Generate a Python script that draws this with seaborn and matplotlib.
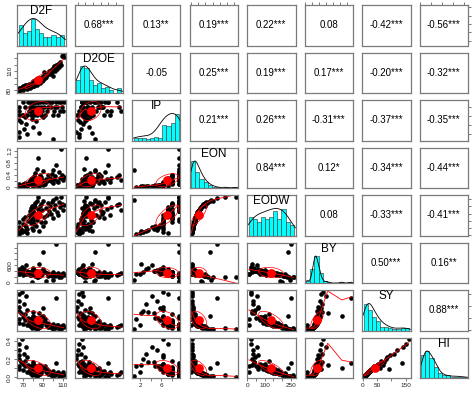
import numpy as np
import pandas as pd
import matplotlib
matplotlib.use("Agg")
import matplotlib.pyplot as plt
import seaborn as sns

# ---------------- data ----------------
names = ["D2F", "D2OE", "IP", "EON", "EODW", "BY", "SY", "HI"]

D2F = [66, 66, 66, 66, 66, 66, 68, 69, 70, 70, 71, 72, 72, 73, 74, 74, 75, 76,
       77, 77, 78, 78, 78, 79, 79, 79, 80, 80, 80, 80, 81, 81, 81, 82, 82, 82, 83, 83,
       84, 84, 85, 85, 86, 86, 87, 88, 88, 89, 90, 90, 91, 92, 93, 94, 95, 96,
       97, 98, 99, 100, 100, 101, 102, 103, 104, 105, 106, 107, 108, 109, 110, 111]
D2OE = [78, 80, 82, 79, 81, 84, 83, 85, 80, 86, 84, 88, 85, 87, 82, 89, 86, 90,
        84, 88, 86, 90, 85, 92, 87, 89, 88, 91, 86, 95, 90, 87, 93, 89, 92, 96, 90, 94,
        88, 97, 93, 91, 99, 95, 92, 100, 98, 94, 103, 96, 108, 99, 101, 104, 106, 110,
        105, 112, 108, 115, 102, 118, 110, 120, 113, 122, 116, 124, 119, 134, 137, 132]
IP = [2.5, 5.1, 1.2, 6.3, 7.2, 8.1, 4.6, 6.3, 6.3, 9.3, 3.1, 5.7, 8.1, 4.2, 1.9, 6.3, 9.3, 7.2,
      8.1, 9.3, 6.3, 7.2, 9.3, 5.4, 8.1, 9.3, 6.3, 9.3, 8.1, 3.5, 9.3, 7.2, 6.3, 9.3, 8.1, 9.3, 4.9, 7.2,
      9.3, 6.3, 8.1, 9.3, 2.2, 7.2, 9.3, 6.3, 8.1, 7.2, 9.3, 5.8, 8.1, 6.3, 9.3, 7.2, 8.1, 9.3,
      9.3, 8.1, 9.3, 6.3, 0.8, 7.2, 8.1, 9.3, 8.1, 6.3, 9.3, 7.2, 9.3, 8.1, 7.2, 9.3]
EON = [0.02, 0.03, 0.01, 0.05, 0.02, 0.08, 0.04, 0.03, 0.06, 0.10, 0.02, 0.07, 0.12, 0.04, 0.01, 0.05, 0.09, 0.15,
       0.12, 0.20, 0.08, 0.15, 0.25, 0.05, 0.18, 0.30, 0.10, 0.22, 0.14, 0.04, 0.35, 0.17, 0.09, 0.28, 0.13, 0.45, 0.06, 0.19,
       0.60, 0.11, 0.24, 0.95, 0.03, 0.16, 0.40, 0.08, 0.32, 0.21, 0.52, 0.07, 0.14, 0.10, 0.27, 0.18, 0.38, 0.22,
       0.30, 0.18, 0.42, 0.12, 0.55, 0.25, 0.35, 0.72, 0.20, 0.15, 0.48, 0.28, 1.25, 0.38, 0.22, 0.33]
EODW = [25, 35, 8, 60, 18, 90, 40, 22, 75, 110, 30, 70, 125, 55, 12, 45, 95, 140,
        115, 165, 85, 130, 185, 50, 150, 200, 100, 170, 120, 38, 210, 155, 80, 195, 135, 225, 65, 145,
        240, 105, 180, 262, 28, 160, 205, 88, 215, 175, 235, 62, 128, 92, 190, 142, 220, 168,
        205, 150, 228, 118, 245, 182, 212, 255, 158, 138, 232, 198, 268, 218, 172, 208]
BY = [350, 420, 300, 380, 450, 280, 400, 520, 330, 260, 480, 310, 360, 600, 290, 410, 340, 380,
      320, 250, 380, 300, 270, 410, 350, 40, 440, 290, 360, 500, 260, 310, 420, 280, 340, 220, 390, 300,
      180, 370, 270, 200, 650, 330, 240, 400, 260, 310, 1050, 450, 350, 380, 60, 330, 240, 300,
      250, 300, 220, 350, 90, 280, 240, 1320, 310, 330, 210, 260, 180, 290, 320, 270]
SY = [80, 120, 45, 95, 150, 30, 70, 160, 55, 25, 110, 40, 65, 140, 20, 85, 50, 35,
      30, 15, 45, 25, 18, 50, 35, 10, 60, 22, 40, 75, 12, 28, 55, 20, 38, 8, 48, 26,
      5, 42, 16, 9, 70, 33, 14, 52, 17, 27, 60, 90, 36, 44, 19, 31, 11, 24,
      12, 18, 8, 25, 6, 15, 10, 135, 20, 22, 5, 14, 4, 16, 21, 13]
HI = [0.20, 0.30, 0.13, 0.24, 0.36, 0.09, 0.17, 0.42, 0.15, 0.08, 0.26, 0.12, 0.18, 0.33, 0.06, 0.22, 0.14, 0.11,
      0.08, 0.05, 0.12, 0.07, 0.06, 0.13, 0.10, 0.03, 0.15, 0.07, 0.11, 0.17, 0.04, 0.08, 0.14, 0.06, 0.10, 0.03, 0.12, 0.07,
      0.02, 0.11, 0.05, 0.03, 0.14, 0.09, 0.04, 0.13, 0.05, 0.08, 0.10, 0.09, 0.10, 0.12, 0.06, 0.09, 0.04, 0.07,
      0.04, 0.05, 0.02, 0.07, 0.02, 0.04, 0.03, 0.16, 0.05, 0.06, 0.01, 0.04, 0.01, 0.04, 0.06, 0.03]

corr_text = [
    ["0.68***", "0.13**", "0.19***", "0.22***", "0.08", "-0.42***", "-0.56***"],
    ["-0.05", "0.25***", "0.19***", "0.17***", "-0.20***", "-0.32***"],
    ["0.21***", "0.26***", "-0.31***", "-0.37***", "-0.35***"],
    ["0.84***", "0.12*", "-0.34***", "-0.44***"],
    ["0.08", "-0.33***", "-0.41***"],
    ["0.50***", "0.16**"],
    ["0.88***"],
]

# axis ticks and the labels that are printed
ticks = {
    "D2F": [70, 80, 90, 100, 110],
    "D2OE": [80, 90, 100, 110, 120, 130],
    "IP": [2, 4, 6, 8],
    "EON": [0, 0.2, 0.4, 0.6, 0.8, 1.0, 1.2],
    "EODW": [0, 50, 100, 150, 200, 250],
    "BY": [0, 200, 400, 600, 800, 1000, 1200],
    "SY": [0, 50, 100, 150],
    "HI": [0.0, 0.1, 0.2, 0.3, 0.4],
}
tick_labels = {
    "D2F": ["70", "", "90", "", "110"],
    "D2OE": ["80", "", "", "110", "", ""],
    "IP": ["2", "", "6", ""],
    "EON": ["0", "", "0.4", "", "0.8", "", "1.2"],
    "EODW": ["0", "", "100", "", "", "250"],
    "BY": ["0", "", "", "600", "", "", ""],
    "SY": ["0", "50", "", "150"],
    "HI": ["0.0", "", "0.2", "", "0.4"],
}

df = pd.DataFrame({"D2F": D2F, "D2OE": D2OE, "IP": IP, "EON": EON,
                   "EODW": EODW, "BY": BY, "SY": SY, "HI": HI})

# ---------------- helpers ----------------
def lowess(x, y, frac=2/3, iters=3):
    """R-style lowess, evaluated at the sorted unique x values."""
    x = np.asarray(x, float); y = np.asarray(y, float)
    n = len(x)
    k = int(np.ceil(frac * n))
    rob = np.ones(n)

    def fit_at(g):
        d = np.abs(x - g)
        h = max(np.sort(d)[k - 1], 1e-12) * 1.0001
        w = np.clip(1 - (d / h) ** 3, 0, None) ** 3 * rob
        W = w.sum()
        if W <= 0:
            return y.mean()
        xm = (w * x).sum() / W; ym = (w * y).sum() / W
        vx = (w * (x - xm) ** 2).sum()
        b = (w * (x - xm) * (y - ym)).sum() / vx if vx > 1e-12 else 0
        return ym + b * (g - xm)

    for _ in range(iters):
        fitted = np.array([fit_at(g) for g in x])
        res = y - fitted
        s = np.median(np.abs(res))
        if s <= 0:
            break
        u = res / (6 * s)
        rob = np.clip(1 - u ** 2, 0, None) ** 2
    grid = np.unique(x)
    return grid, np.array([fit_at(g) for g in grid])

def kde_curve(v, lo, hi):
    v = np.asarray(v, float)
    n = len(v)
    iqr = np.subtract(*np.percentile(v, [75, 25]))
    bw = 1.06 * min(np.std(v, ddof=1), iqr / 1.34) * n ** (-0.2) * 1.2
    xs = np.linspace(lo, hi, 200)
    dens = np.exp(-0.5 * ((xs[:, None] - v[None, :]) / bw) ** 2).sum(axis=1)
    return xs, dens / dens.max()

def lims(v):
    v = np.asarray(v, float)
    r = v.max() - v.min()
    return v.min() - 0.04 * r, v.max() + 0.04 * r

sns.set_theme(style="white")
plt.rcParams["font.family"] = ["Liberation Sans", "DejaVu Sans"]

W, H = 474, 394
fig = plt.figure(figsize=(W / 100, H / 100), dpi=100)
fig.patch.set_facecolor("white")

col_left = [17 + 57.5 * i for i in range(8)]
row_top = [5 + 47.5 * i for i in range(8)]
pw, ph = 48.5, 40.5
frame_col = "#7a7a7a"

for i, yn in enumerate(names):          # row
    for j, xn in enumerate(names):      # column
        ax = fig.add_axes([col_left[j] / W, 1 - (row_top[i] + ph) / H, pw / W, ph / H])
        ax.set_facecolor("white")
        for s in ax.spines.values():
            s.set_color(frame_col)
            s.set_linewidth(0.9)
        xl = lims(df[xn])
        yl = lims(df[yn])

        if i == j:
            v = df[xn].values
            edges = np.linspace(v.min(), v.max(), 12)
            sns.histplot(x=v, bins=edges, ax=ax, color="#00FFFF", edgecolor="#2b2b2b",
                         linewidth=0.4, alpha=1, stat="count")
            cmax = max(p.get_height() for p in ax.patches)
            xs, dn = kde_curve(v, xl[0], xl[1])
            ax.plot(xs, dn * cmax, color="black", lw=0.6)
            ax.set_xlim(*xl)
            ax.set_ylim(0, 1.5 * cmax)
            ax.text(0.5, 0.84, xn, transform=ax.transAxes, ha="center", va="center",
                    fontsize=8.5, color="black")
        elif i > j:
            x = df[xn].values; y = df[yn].values
            sns.scatterplot(x=x, y=y, ax=ax, s=11, color="black", linewidth=0, legend=False)
            gx, gy = lowess(x, y)
            ax.plot(gx, gy, color="red", lw=0.6)
            mx, my = x.mean(), y.mean()
            cov = np.cov(x, y)
            vals, vecs = np.linalg.eigh(cov)
            t = np.linspace(0, 2 * np.pi, 100)
            circ = np.vstack([np.cos(t), np.sin(t)])
            ell = vecs @ (np.sqrt(vals)[:, None] * circ)
            ax.plot(mx + ell[0], my + ell[1], color="red", lw=0.5)
            ax.scatter([mx], [my], s=40, color="red", zorder=5, linewidths=0)
            ax.set_xlim(*xl); ax.set_ylim(*yl)
        else:
            ax.set_xlim(*xl); ax.set_ylim(*yl)
            ax.text(0.5, 0.5, corr_text[i][j - i - 1], transform=ax.transAxes,
                    ha="center", va="center", fontsize=7, color="black")

        ax.set_xlabel(""); ax.set_ylabel("")
        ax.tick_params(left=False, bottom=False, labelleft=False, labelbottom=False)

        # outer axes, alternating as in R pairs()
        tp = dict(length=2.5, width=0.5, color="#444444", labelsize=4.6, pad=1,
                  labelcolor="#222222")
        if i == 7 and j % 2 == 0:
            ax.set_xticks(ticks[xn]); ax.set_xticklabels(tick_labels[xn])
            ax.tick_params(axis="x", bottom=True, labelbottom=True, **tp)
            ax.set_xlim(*xl)
        if i == 0 and j % 2 == 1:
            ax.set_xticks(ticks[xn])
            ax.tick_params(axis="x", top=True, labeltop=False, bottom=False, labelbottom=False, **tp)
            ax.set_xlim(*xl)
        if j == 0 and i % 2 == 1:
            ax.set_yticks(ticks[yn]); ax.set_yticklabels(tick_labels[yn], rotation=90, va="center")
            ax.tick_params(axis="y", left=True, labelleft=True, **tp)
            ax.set_ylim(*yl)
        if j == 7 and i % 2 == 0:
            ax.set_yticks(ticks[yn])
            ax.tick_params(axis="y", right=True, labelright=False, left=False, labelleft=False, **tp)
            ax.set_ylim(*yl)

fig.savefig("out.png", dpi=100, facecolor="white")
